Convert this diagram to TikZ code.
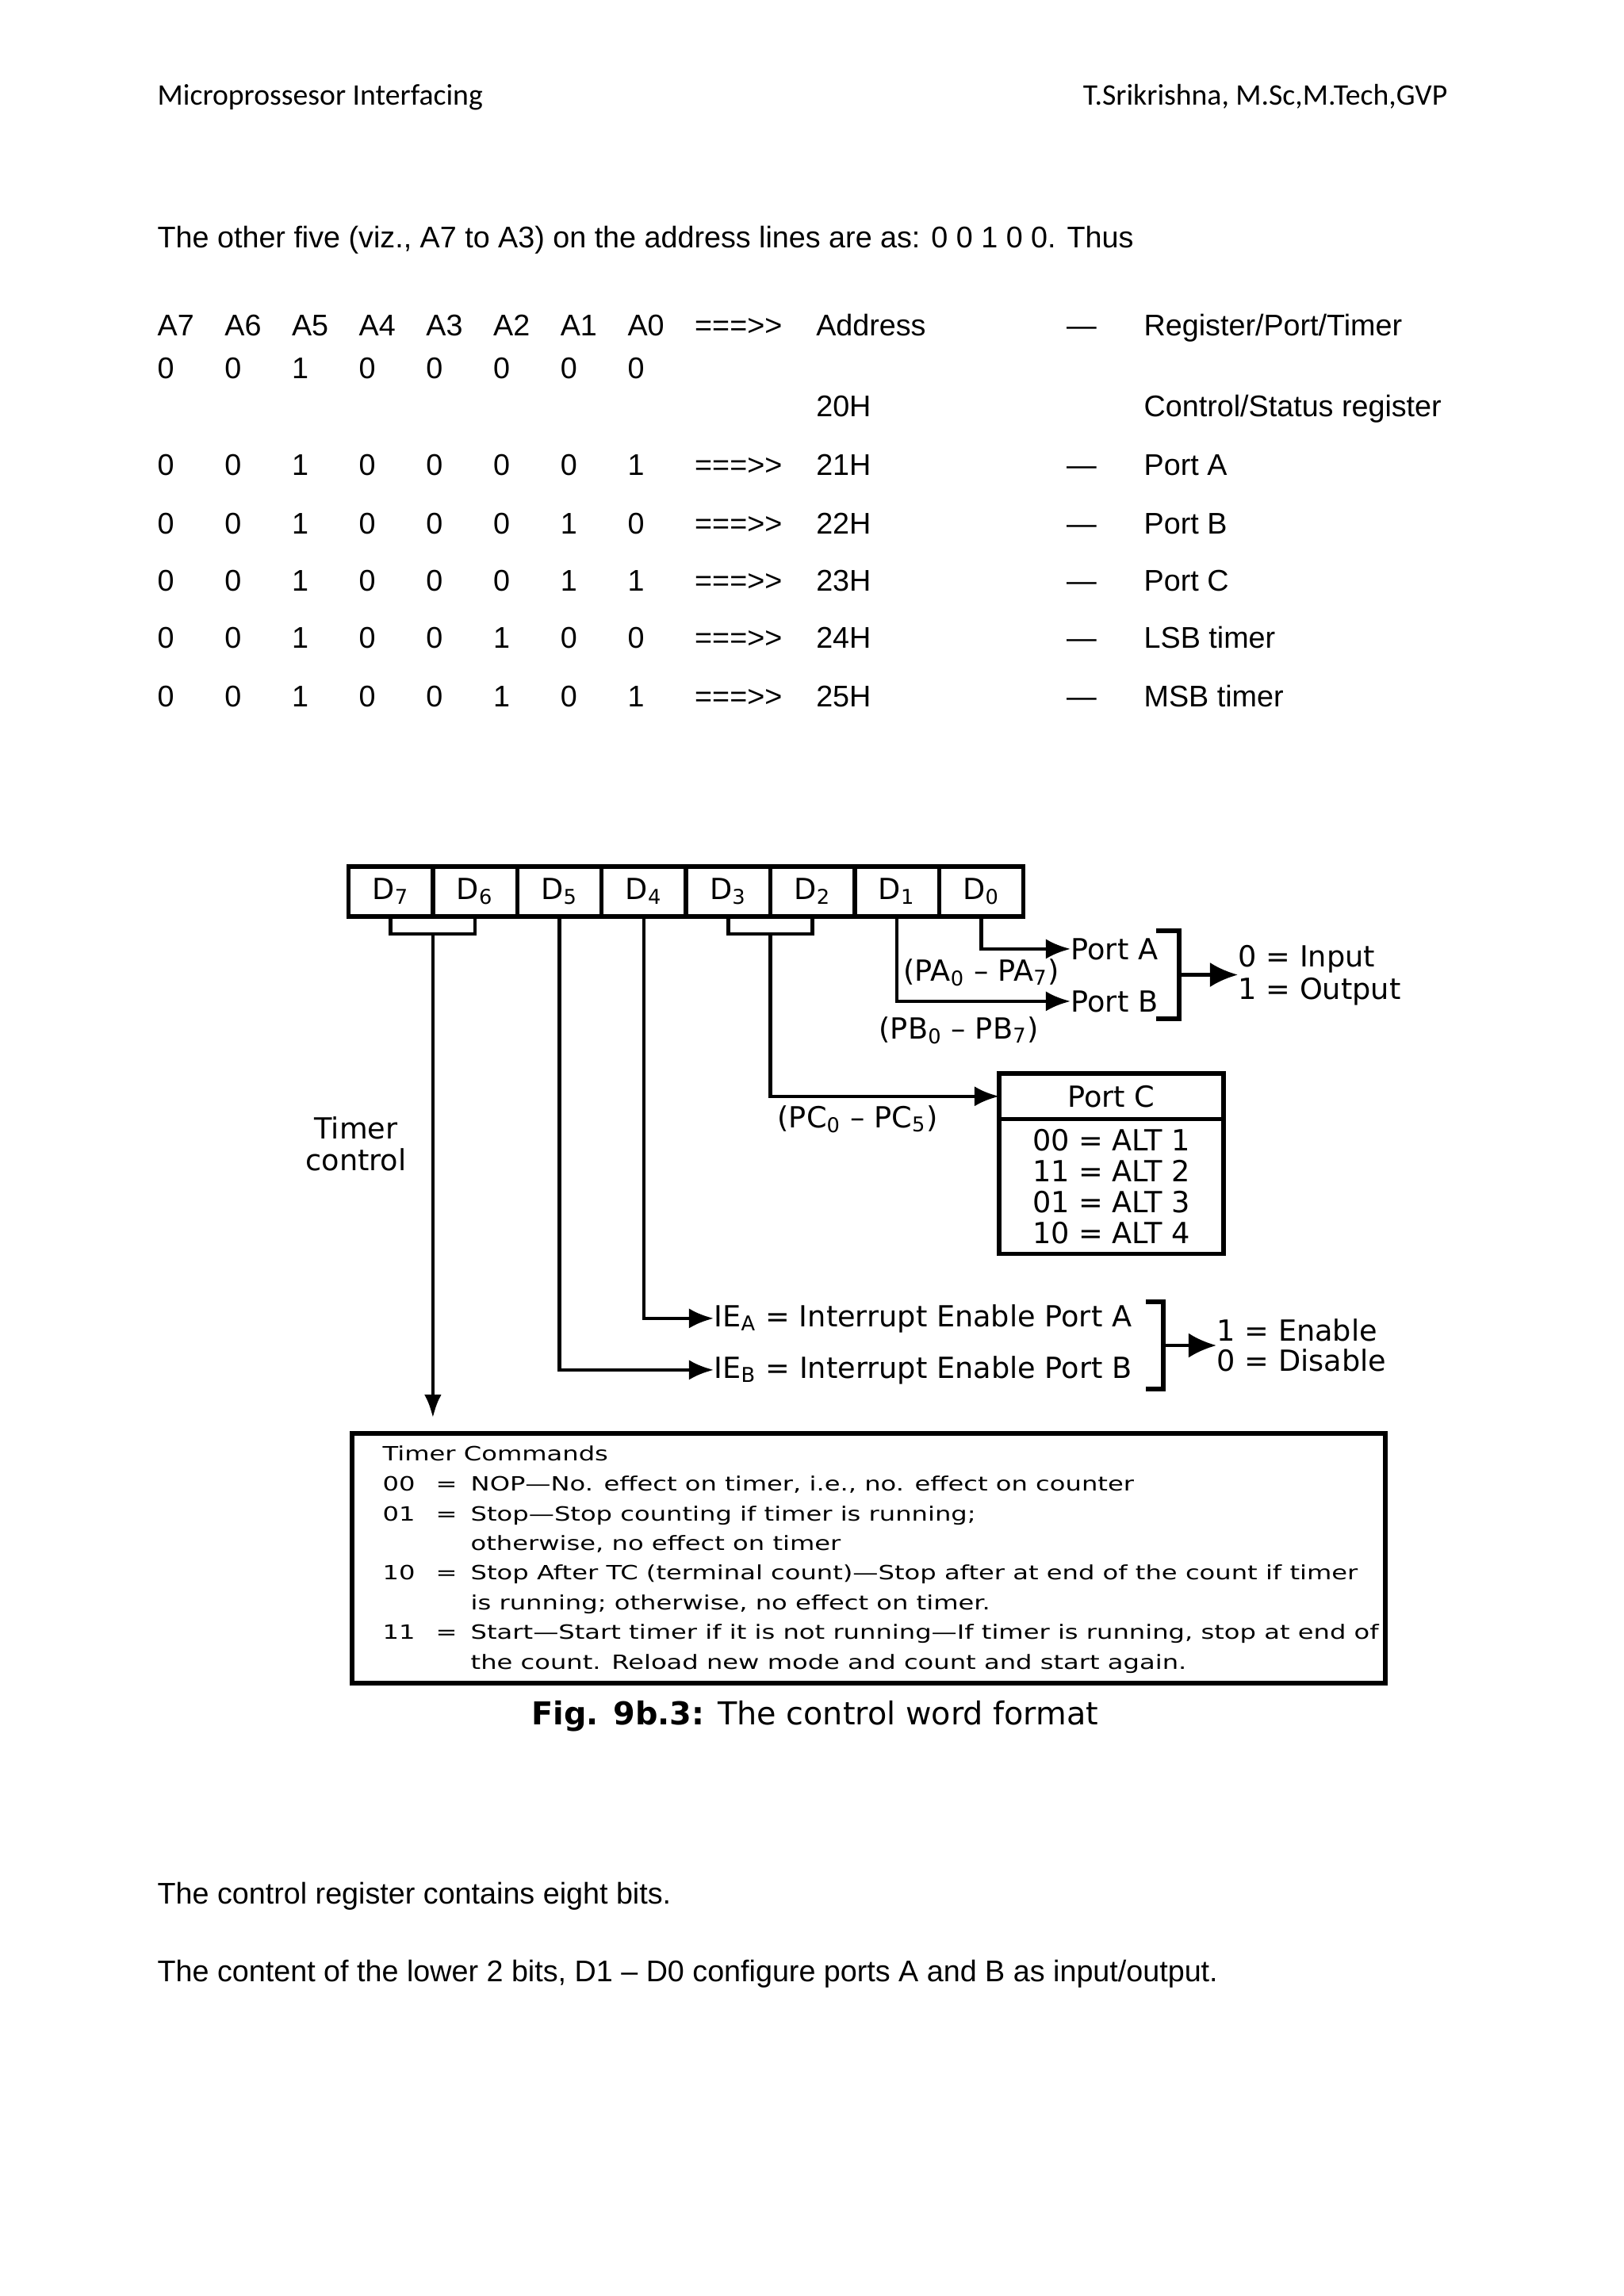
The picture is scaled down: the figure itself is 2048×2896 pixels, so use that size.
\documentclass[tikz,border=0pt]{standalone}
\usepackage{fontspec}
\setmainfont{Liberation Sans}
\newfontfamily\hdrfont{Carlito}
\newfontfamily\figfont{DejaVu Sans}
\newfontfamily\cmdfont[FakeStretch=1.3]{DejaVu Sans}
\usetikzlibrary{arrows.meta,positioning,calc}
\newcommand{\bitcol}[1]{\makebox[.8685cm][l]{#1}}
\newcommand{\addrtail}[4]{\makebox[1.569cm][l]{#1}\makebox[3.239cm][l]{#2}\makebox[1cm][l]{#3}#4}
\tikzset{
  >=Latex,
  pagetext/.style={anchor=base west,inner sep=0pt,font=\fontsize{11}{13}\selectfont},
  header/.style={inner sep=0pt,font=\hdrfont\fontsize{11}{13}\selectfont},
  bitcell/.style={draw,line width=1.6pt,minimum width=1.091cm,minimum height=.646cm,inner sep=0pt,outer sep=0pt,font=\figfont\fontsize{10.7}{12}\selectfont},
  lbl/.style={inner sep=0pt,font=\figfont\fontsize{10.7}{12}\selectfont},
  portbox/.style={draw,line width=1.6pt,minimum width=2.902cm,inner sep=0pt,outer sep=0pt,font=\figfont\fontsize{10.7}{12}\selectfont},
  cmd/.style={anchor=base west,inner sep=0pt,font=\cmdfont\fontsize{7.22}{9}\selectfont},
  wire/.style={line width=1.35pt},
  sel/.style={wire,-{Latex[length=3.2mm,width=2.6mm]}},
  fan/.style={wire,-{Latex[length=3.6mm,width=3.2mm]}},
  drop/.style={wire,-{Latex[length=3mm,width=2.2mm]},shorten >=4.9pt},
  clamp/.style={line width=1.6pt}
}
\begin{document}
\begin{tikzpicture}[x=0.0102539cm,y=-0.0102539cm]
  \path[use as bounding box,fill=white] (0,0) rectangle (2048,2896);
  % page header and text
  \node[header,anchor=base west] (hleft) at (198,132) {Microprossesor Interfacing};
  \node[header,anchor=base east] (hright) at (1826,132) {T.Srikrishna, M.Sc,M.Tech,GVP};
  \node[pagetext] (intro) at (198,312) {The other five (viz., A7 to A3) on the address lines are as: 0 0 1 0 0. Thus};
  % address table
  \node[pagetext] (rowhd) at (198,423.5) {\bitcol{A7}\bitcol{A6}\bitcol{A5}\bitcol{A4}\bitcol{A3}\bitcol{A2}\bitcol{A1}\bitcol{A0}\addrtail{===>{}>}{Address}{—}{Register/Port/Timer}};
  \node[pagetext] (rowbase) at (198,477) {\bitcol{0}\bitcol{0}\bitcol{1}\bitcol{0}\bitcol{0}\bitcol{0}\bitcol{0}\bitcol{0}};
  \node[pagetext] (row20) at (1028.6,525) {\makebox[4.239cm][l]{20H}Control/Status register};
  \node[pagetext] (row21) at (198,599) {\bitcol{0}\bitcol{0}\bitcol{1}\bitcol{0}\bitcol{0}\bitcol{0}\bitcol{0}\bitcol{1}\addrtail{===>{}>}{21H}{—}{Port A}};
  \node[pagetext] (row22) at (198,673) {\bitcol{0}\bitcol{0}\bitcol{1}\bitcol{0}\bitcol{0}\bitcol{0}\bitcol{1}\bitcol{0}\addrtail{===>{}>}{22H}{—}{Port B}};
  \node[pagetext] (row23) at (198,745) {\bitcol{0}\bitcol{0}\bitcol{1}\bitcol{0}\bitcol{0}\bitcol{0}\bitcol{1}\bitcol{1}\addrtail{===>{}>}{23H}{—}{Port C}};
  \node[pagetext] (row24) at (198,817) {\bitcol{0}\bitcol{0}\bitcol{1}\bitcol{0}\bitcol{0}\bitcol{1}\bitcol{0}\bitcol{0}\addrtail{===>{}>}{24H}{—}{LSB timer}};
  \node[pagetext] (row25) at (198,891) {\bitcol{0}\bitcol{0}\bitcol{1}\bitcol{0}\bitcol{0}\bitcol{1}\bitcol{0}\bitcol{1}\addrtail{===>{}>}{25H}{—}{MSB timer}};

  % control word
  \node[bitcell] (d7) at (492.7,1124.5) {D\textsubscript{7}};
  \node[bitcell,right=0pt of d7] (d6) {D\textsubscript{6}};
  \node[bitcell,right=0pt of d6] (d5) {D\textsubscript{5}};
  \node[bitcell,right=0pt of d5] (d4) {D\textsubscript{4}};
  \node[bitcell,right=0pt of d4] (d3) {D\textsubscript{3}};
  \node[bitcell,right=0pt of d3] (d2) {D\textsubscript{2}};
  \node[bitcell,right=0pt of d2] (d1) {D\textsubscript{1}};
  \node[bitcell,right=0pt of d1] (d0) {D\textsubscript{0}};

  % ports A and B
  \node[lbl,anchor=base west] (porta) at (1350,1210) {Port A};
  \node[lbl,anchor=base west] (portb) at (1350,1276) {Port B};
  \node[lbl,anchor=base west] (pa) at (1139,1237) {(PA\textsubscript{0} – PA\textsubscript{7})};
  \node[lbl,anchor=base west] (pb) at (1108,1310) {(PB\textsubscript{0} – PB\textsubscript{7})};
  \node[lbl,anchor=west,align=left,font=\figfont\fontsize{10.7}{11.9}\selectfont] (inout) at (1561,1230) {0 = Input\\1 = Output};

  % port C
  \node[portbox,minimum height=.592cm] (portc) at (1401.5,1382.8) {Port C};
  \node[portbox,minimum height=1.743cm,below=0pt of portc,align=left,font=\figfont\fontsize{10.7}{11.4}\selectfont] (altmode) {00 = ALT 1\\11 = ALT 2\\01 = ALT 3\\10 = ALT 4};
  \node[lbl,anchor=base west] (pc) at (980,1422) {(PC\textsubscript{0} – PC\textsubscript{5})};

  \node[lbl,align=center,font=\figfont\fontsize{10.7}{11.6}\selectfont] (tctl) at (449,1443) {Timer\\control};

  % interrupt enables
  \node[lbl,anchor=base west] (iea) at (900,1673) {IE\textsubscript{A} = Interrupt Enable Port A};
  \node[lbl,anchor=base west] (ieb) at (900,1738) {IE\textsubscript{B} = Interrupt Enable Port B};
  \node[lbl,anchor=west,align=left,font=\figfont\fontsize{10.7}{11}\selectfont] (enable) at (1534,1697) {1 = Enable\\0 = Disable};

  % timer commands
  \node[draw,line width=1.6pt,minimum width=13.36cm,minimum height=3.23cm,inner sep=0pt] (cmdbox) at (1095.5,1965.5) {};
  \node[cmd] (cmdhead) at (482,1842) {Timer Commands};
  \node[cmd] (c00) at (482,1880) {00};
  \node[cmd] (e00) at (549,1880) {=};
  \node[cmd] (t00) at (593,1880) {NOP—No. effect on timer, i.e., no. effect on counter};
  \node[cmd] (c01) at (482,1918) {01};
  \node[cmd] (e01) at (549,1918) {=};
  \node[cmd] (t01) at (593,1918) {Stop—Stop counting if timer is running;};
  \node[cmd] (t01b) at (593,1955) {otherwise, no effect on timer};
  \node[cmd] (c10) at (482,1992) {10};
  \node[cmd] (e10) at (549,1992) {=};
  \node[cmd] (t10) at (593,1992) {Stop After TC (terminal count)—Stop after at end of the count if timer};
  \node[cmd] (t10b) at (593,2030) {is running; otherwise, no effect on timer.};
  \node[cmd] (c11) at (482,2067) {11};
  \node[cmd] (e11) at (549,2067) {=};
  \node[cmd] (t11) at (593,2067) {Start—Start timer if it is not running—If timer is running, stop at end of};
  \node[cmd] (t11b) at (593,2105) {the count. Reload new mode and count and start again.};

  \node[lbl,anchor=base west,font=\figfont\fontsize{11.6}{13}\selectfont] (caption) at (670,2175) {\textbf{Fig. 9b.3:} The control word format};

  % connectors
  \draw[wire] (d7.south) -- ++(0,22) -| (d6.south);
  \coordinate (tmid) at ($(d7.south east)+(0,22)$);
  \draw[drop] (tmid) -- (tmid |- cmdbox.north);
  \draw[sel] (d5.south) |- (ieb.west);
  \draw[sel] (d4.south) |- (iea.west);
  \draw[wire] (d3.south) -- ++(0,22) -| (d2.south);
  \coordinate (cmid) at ($(d3.south east)+(0,22)$);
  \draw[sel] (cmid) |- (portc.west);
  \draw[sel] (d1.south) |- (portb.west);
  \draw[sel] (d0.south) |- (porta.west);

  \coordinate (abtop) at (1487,1174);
  \coordinate (abbot) at (1487,1285);
  \coordinate (abmid) at ($(abtop)!.5!(abbot)$);
  \draw[clamp] ($(abtop)+(-29,0)$) -- (abtop) -- (abbot) -- ++(-29,0);
  \draw[fan] (abmid) -- (abmid -| inout.west);

  \coordinate (ietop) at (1467,1642);
  \coordinate (iebot) at (1467,1752);
  \coordinate (iemid) at ($(ietop)!.5!(iebot)$);
  \draw[clamp] ($(ietop)+(-22,0)$) -- (ietop) -- (iebot) -- ++(-22,0);
  \draw[fan] (iemid) -- (iemid -| enable.west);

  % text below the figure
  \node[pagetext] (txt1) at (198,2401) {The control register contains eight bits.};
  \node[pagetext] (txt2) at (198,2499) {The content of the lower 2 bits, D1 – D0 configure ports A and B as input/output.};
\end{tikzpicture}
\end{document}
